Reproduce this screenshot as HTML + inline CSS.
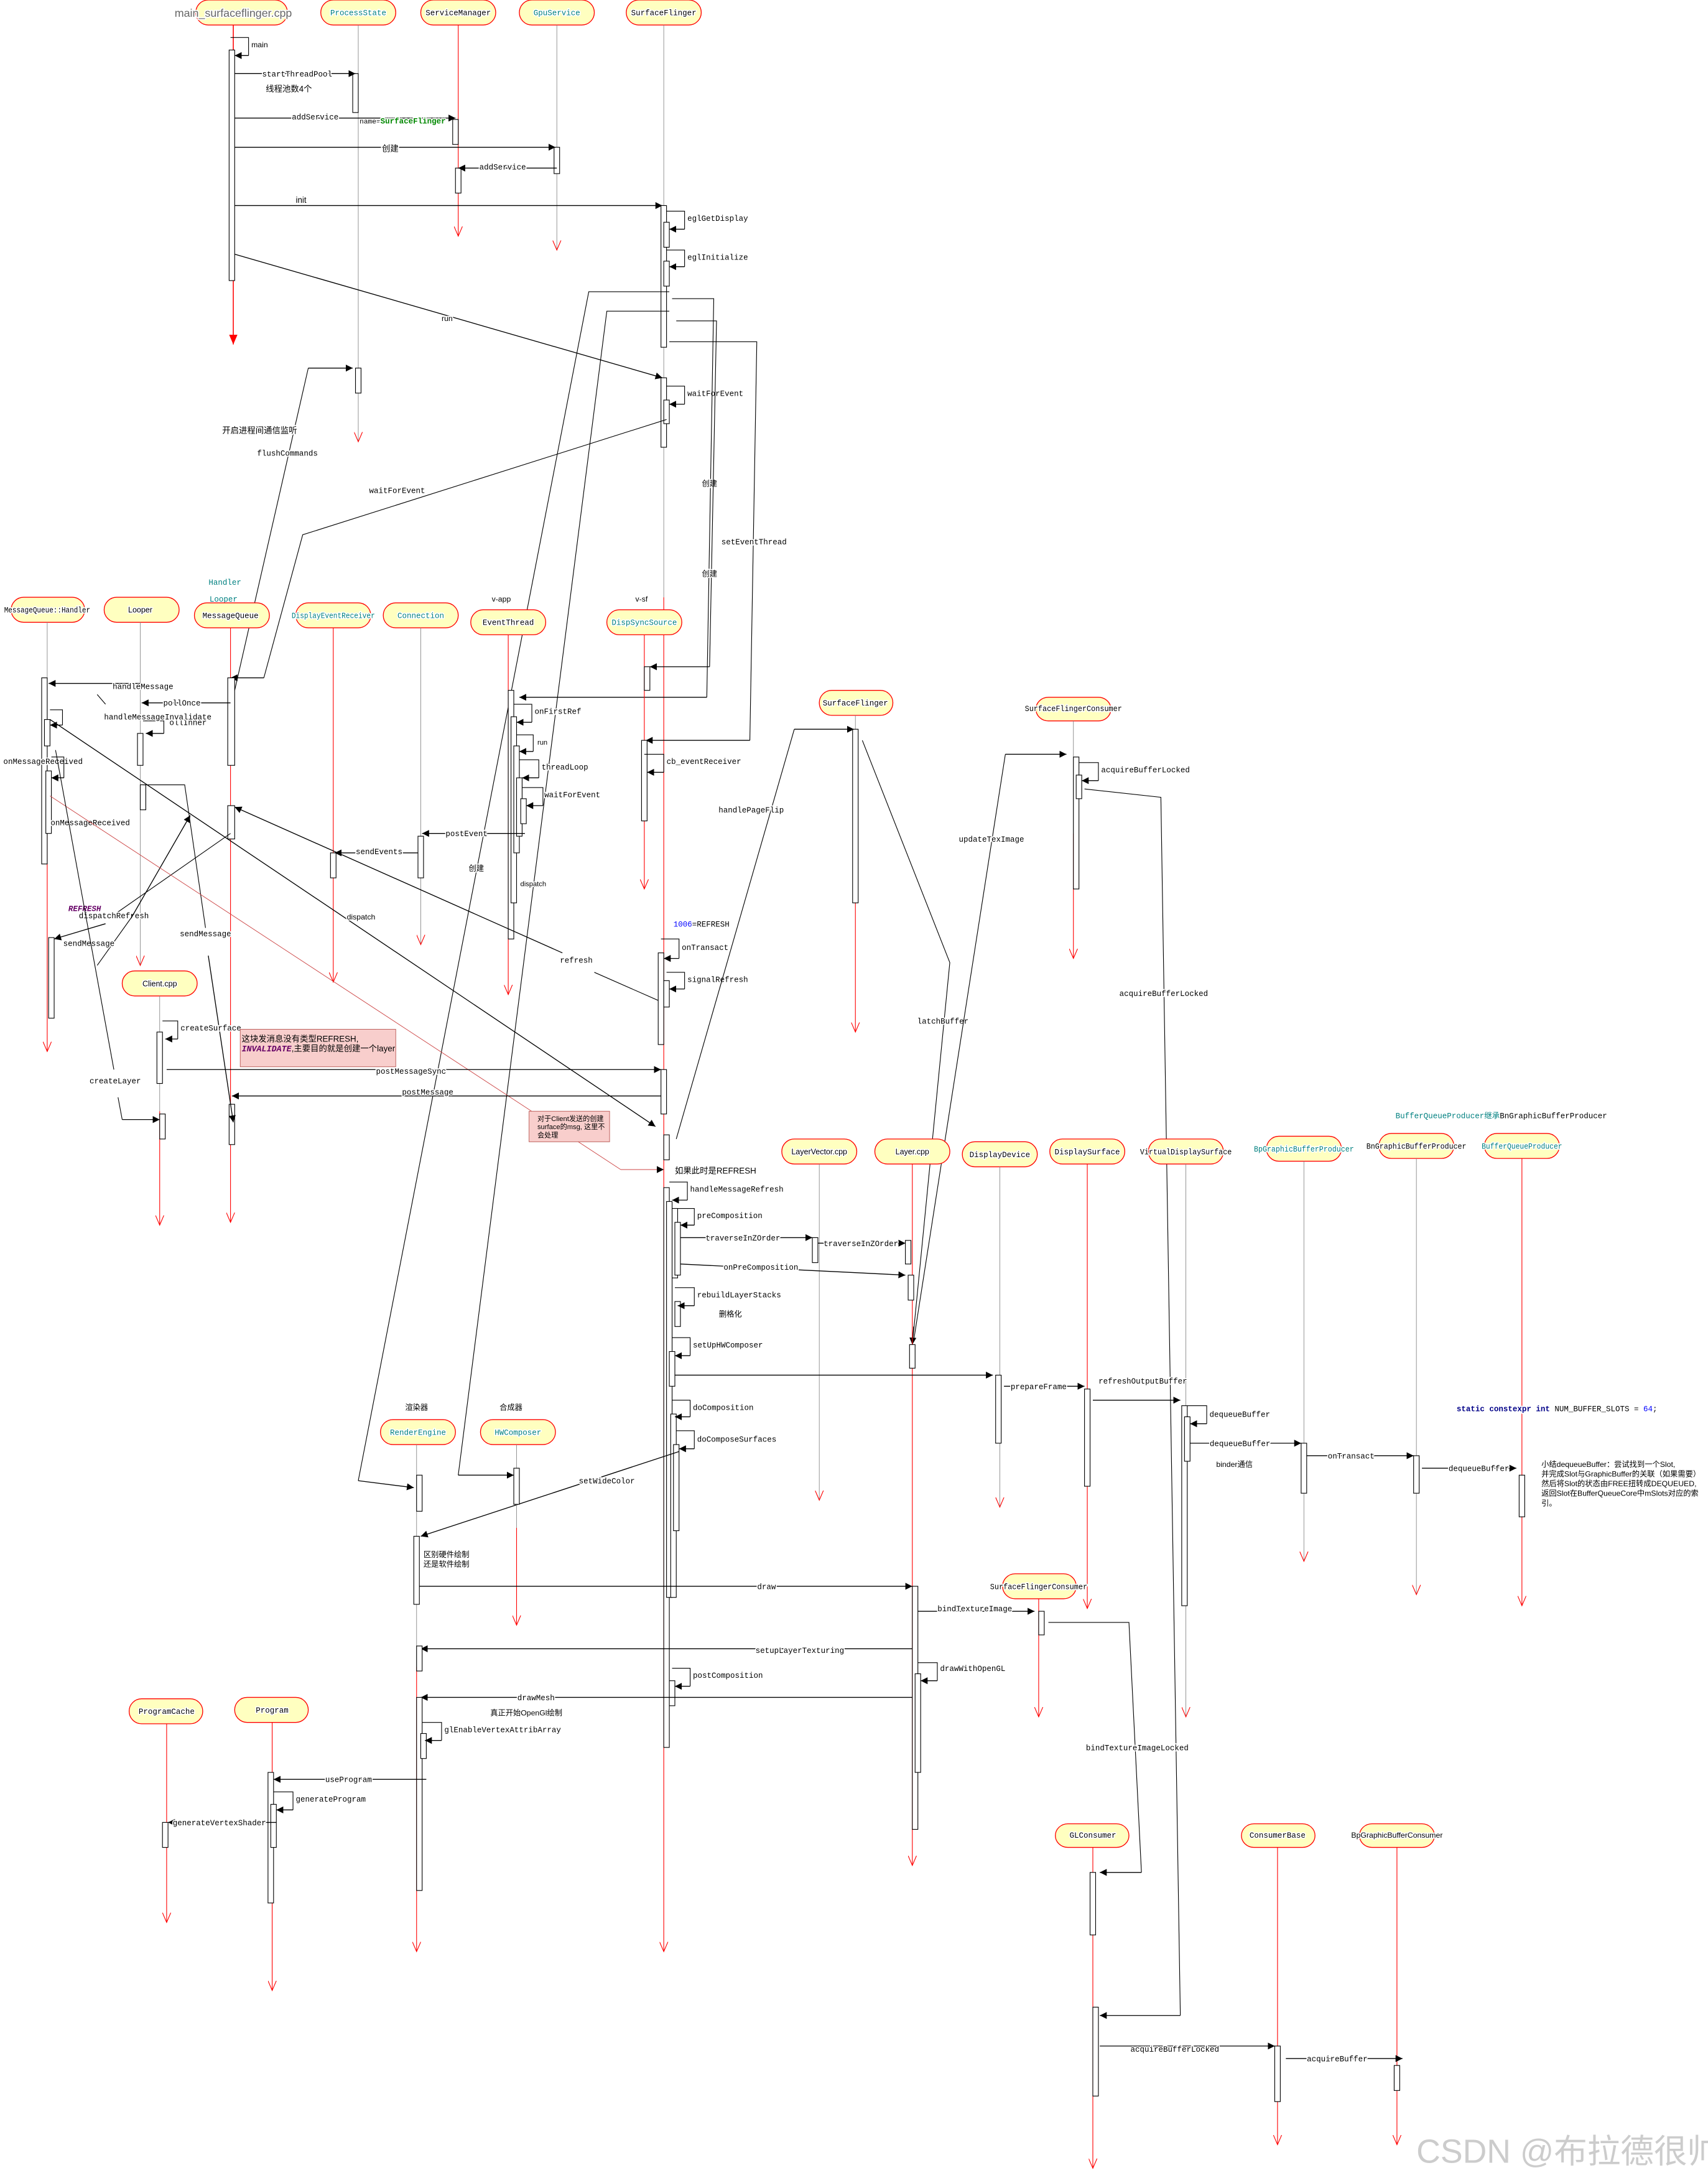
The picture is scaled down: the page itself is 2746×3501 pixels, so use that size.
<!DOCTYPE html>
<html><head><meta charset="utf-8">
<style>
html,body{margin:0;padding:0;background:#fff;}
svg{display:block;}
text{font-family:"Liberation Mono","Noto Sans CJK SC",monospace;font-size:5.6px;fill:#000;stroke:#fff;stroke-width:1.6px;paint-order:stroke;stroke-linejoin:round;}
.s{font-family:"Liberation Sans","Noto Sans CJK SC",sans-serif;}
.t{fill:#008080;}
.hb{fill:#ffffc0;stroke:#f00;stroke-width:0.6;}
.ht{stroke:none;}
.ll{stroke:#888;stroke-width:0.4;fill:none;}
.lr{stroke:#f00;stroke-width:0.5;fill:none;}
.ab{fill:#fff;stroke:#000;stroke-width:0.5;}
.m{stroke:#000;stroke-width:0.6;fill:none;marker-end:url(#fa);}
.p{stroke:#000;stroke-width:0.5;fill:none;}
</style></head><body>
<svg width="2746" height="3501" viewBox="0 0 1230 1568" preserveAspectRatio="none" xmlns="http://www.w3.org/2000/svg">
<defs>
<marker id="fa" markerWidth="6" markerHeight="6" refX="5" refY="3" orient="auto" markerUnits="userSpaceOnUse"><path d="M0,0.5 L5,3 L0,5.5z" fill="#000"/></marker>
<marker id="oa" markerWidth="8" markerHeight="8" refX="3" refY="7" orient="0" markerUnits="userSpaceOnUse"><path d="M0,0 L3,7 L6,0" fill="none" stroke="#f00" stroke-width="0.5"/></marker>
<marker id="ra" markerWidth="6" markerHeight="8" refX="3" refY="7" orient="0" markerUnits="userSpaceOnUse"><path d="M0,0 L3,7 L6,0z" fill="#f00"/></marker>
</defs>
<rect width="1230" height="1568" fill="#fff"/>

<!-- ===== TOP HEADERS ===== -->
<rect class="hb" x="141" y="0" width="66" height="18" rx="9"/>
<text x="168" y="12" text-anchor="middle" class="s" style="font-size:8px;fill:#666">main_surfaceflinger.cpp</text>
<rect class="hb" x="231" y="0" width="54" height="18" rx="9"/><text x="258" y="11" text-anchor="middle" class="t">ProcessState</text>
<rect class="hb" x="303" y="0" width="54" height="18" rx="9"/><text x="330" y="11" text-anchor="middle">ServiceManager</text>
<rect class="hb" x="374" y="0" width="54" height="18" rx="9"/><text x="401" y="11" text-anchor="middle" class="t">GpuService</text>
<rect class="hb" x="451" y="0" width="54" height="18" rx="9"/><text x="478" y="11" text-anchor="middle">SurfaceFlinger</text>

<line x1="168" y1="18" x2="168" y2="248" stroke="#f00" stroke-width="0.7" marker-end="url(#ra)"/>
<line class="ll" x1="258" y1="18" x2="258" y2="318" marker-end="url(#oa)"/>
<line class="lr" x1="330" y1="18" x2="330" y2="170" marker-end="url(#oa)"/>
<line class="ll" x1="401" y1="18" x2="401" y2="180" marker-end="url(#oa)"/>
<line class="ll" x1="478" y1="18" x2="478" y2="430"/>
<line class="lr" x1="478" y1="430" x2="478" y2="1405" marker-end="url(#oa)"/>

<rect class="ab" x="165" y="36" width="4" height="166"/>
<polyline class="p" points="166,27 179,27 179,40" /><line class="m" x1="179" y1="40" x2="169" y2="40"/>
<text x="181" y="34" class="s" style="font-size:5.5px">main</text>
<rect class="ab" x="254" y="53" width="4" height="28"/>
<line class="m" x1="169" y1="53" x2="256" y2="53"/><text x="214" y="55" text-anchor="middle">startThreadPool</text>
<text x="208" y="66" text-anchor="middle" class="s" style="font-size:6px">线程池数4个</text>
<rect class="ab" x="326" y="86" width="4" height="18"/>
<line class="m" x1="169" y1="85" x2="328" y2="85"/><text x="227" y="86" text-anchor="middle">addService</text>
<text x="290" y="89" text-anchor="middle" style="font-size:5px">name=<tspan style="fill:#080;font-weight:bold;font-size:5.6px">SurfaceFlinger</tspan></text>
<rect class="ab" x="399" y="106" width="4" height="19"/>
<line class="m" x1="169" y1="106" x2="400" y2="106"/><text x="281" y="109" text-anchor="middle" class="s" style="font-size:6px">创建</text>
<rect class="ab" x="328" y="121" width="4" height="18"/>
<line class="m" x1="401" y1="121" x2="330" y2="121"/><text x="362" y="122" text-anchor="middle">addService</text>
<line class="m" x1="169" y1="148" x2="477" y2="148"/><text x="213" y="146" class="s" style="font-size:6px">init</text>
<rect class="ab" x="476" y="148" width="4" height="102"/>
<rect class="ab" x="478" y="160" width="4" height="18"/>
<rect class="ab" x="478" y="188" width="4" height="18"/>
<polyline class="p" points="480,152 493,152 493,165"/><line class="m" x1="493" y1="165" x2="482" y2="165"/><text x="495" y="159">eglGetDisplay</text>
<polyline class="p" points="480,180 493,180 493,192"/><line class="m" x1="493" y1="192" x2="482" y2="192"/><text x="495" y="187">eglInitialize</text>
<line class="m" x1="169" y1="183" x2="477" y2="272"/><text x="322" y="231" text-anchor="middle" class="s" style="font-size:5.5px">run</text>
<rect class="ab" x="476" y="272" width="4" height="50"/>
<rect class="ab" x="478" y="288" width="4" height="17"/>
<polyline class="p" points="480,278 493,278 493,291"/><line class="m" x1="493" y1="291" x2="482" y2="291"/><text x="495" y="285">waitForEvent</text>
<rect class="ab" x="256" y="265" width="4" height="18"/>

<!-- long lines from SF init -->
<polyline class="p" points="482,210 424,210 258,1066" /><line class="m" x1="258" y1="1066" x2="298" y2="1071"/>
<polyline class="p" points="482,224 437,224 330,1062"/><line class="m" x1="330" y1="1062" x2="370" y2="1062"/>
<polyline class="p" points="484,215 514,215 509,502"/><line class="m" x1="509" y1="502" x2="374" y2="502"/><text x="511" y="350" text-anchor="middle" class="s" style="font-size:5.5px">创建</text>
<polyline class="p" points="487,231 516,231 511,480"/><line class="m" x1="511" y1="480" x2="468" y2="480"/><text x="511" y="415" text-anchor="middle" class="s" style="font-size:5.5px">创建</text>
<polyline class="p" points="482,246 545,246 540,533"/><line class="m" x1="540" y1="533" x2="465" y2="533"/><text x="543" y="392" text-anchor="middle">setEventThread</text>
<polyline class="p" points="169,497 222,265"/><line class="m" x1="222" y1="265" x2="254" y2="265"/>
<text x="187" y="312" text-anchor="middle" class="s" style="font-size:6px">开启进程间通信监听</text>
<text x="207" y="328" text-anchor="middle">flushCommands</text>
<polyline class="p" points="480,302 218,385 190,488"/><line class="m" x1="190" y1="488" x2="166" y2="488"/><text x="286" y="355" text-anchor="middle">waitForEvent</text>

<!-- ===== MIDDLE HEADERS ===== -->
<rect class="hb" x="8" y="430" width="53" height="18" rx="9"/><text x="34" y="441" text-anchor="middle" textLength="62" lengthAdjust="spacingAndGlyphs">MessageQueue::Handler</text>
<rect class="hb" x="75" y="430" width="54" height="18" rx="9"/><text x="101" y="441" text-anchor="middle" class="s">Looper</text>
<text x="162" y="421" text-anchor="middle" class="t">Handler</text><text x="161" y="433" text-anchor="middle" class="t">Looper</text>
<rect class="hb" x="140" y="434" width="54" height="18" rx="9"/><text x="166" y="445" text-anchor="middle">MessageQueue</text>
<rect class="hb" x="213" y="434" width="54" height="18" rx="9"/><text x="240" y="445" text-anchor="middle" class="t" textLength="60" lengthAdjust="spacingAndGlyphs">DisplayEventReceiver</text>
<rect class="hb" x="276" y="434" width="54" height="18" rx="9"/><text x="303" y="445" text-anchor="middle" class="t">Connection</text>
<text x="361" y="433" text-anchor="middle" class="s" style="font-size:5.5px">v-app</text>
<rect class="hb" x="339" y="439" width="54" height="18" rx="9"/><text x="366" y="450" text-anchor="middle">EventThread</text>
<text x="462" y="433" text-anchor="middle" class="s" style="font-size:5.5px">v-sf</text>
<rect class="hb" x="437" y="439" width="54" height="18" rx="9"/><text x="464" y="450" text-anchor="middle" class="t">DispSyncSource</text>

<line class="ll" x1="34" y1="448" x2="34" y2="600"/><line class="lr" x1="34" y1="600" x2="34" y2="757" marker-end="url(#oa)"/>
<line class="ll" x1="101" y1="448" x2="101" y2="695" marker-end="url(#oa)"/>
<line class="lr" x1="166" y1="452" x2="166" y2="880" marker-end="url(#oa)"/>
<line class="lr" x1="240" y1="452" x2="240" y2="707" marker-end="url(#oa)"/>
<line class="ll" x1="303" y1="452" x2="303" y2="680" marker-end="url(#oa)"/>
<line class="lr" x1="366" y1="457" x2="366" y2="716" marker-end="url(#oa)"/>
<line class="lr" x1="464" y1="457" x2="464" y2="640" marker-end="url(#oa)"/>

<rect class="ab" x="30" y="488" width="4" height="134"/>
<rect class="ab" x="32" y="518" width="4" height="19"/>
<rect class="ab" x="33" y="555" width="4" height="45"/>
<rect class="ab" x="35" y="675" width="4" height="58"/>
<rect class="ab" x="99" y="528" width="4" height="23"/>
<rect class="ab" x="101" y="565" width="4" height="18"/>
<rect class="ab" x="164" y="488" width="5" height="63"/>
<rect class="ab" x="164" y="580" width="5" height="24"/>
<rect class="ab" x="165" y="795" width="4" height="29"/>
<rect class="ab" x="238" y="614" width="4" height="18"/>
<rect class="ab" x="301" y="602" width="4" height="30"/>
<rect class="ab" x="366" y="497" width="4" height="179"/>
<rect class="ab" x="368" y="516" width="4" height="134"/>
<rect class="ab" x="370" y="537" width="4" height="77"/>
<rect class="ab" x="372" y="560" width="4" height="42"/>
<rect class="ab" x="375" y="575" width="4" height="18"/>
<rect class="ab" x="464" y="480" width="4" height="17"/>
<rect class="ab" x="462" y="533" width="4" height="58"/>

<line class="m" x1="166" y1="506" x2="102" y2="506"/><text x="131" y="508" text-anchor="middle">pollOnce</text>
<line class="m" x1="101" y1="492" x2="35" y2="492"/><text x="103" y="496" text-anchor="middle">handleMessage</text>
<line class="p" x1="70" y1="500" x2="76" y2="507"/>
<polyline class="p" points="103,519 118,519 118,528"/><line class="m" x1="118" y1="528" x2="105" y2="528"/><text x="122" y="522">ollInner</text>
<polyline class="p" points="36,511 45,511 45,522"/><line class="m" x1="45" y1="522" x2="36" y2="522"/><text x="75" y="518">handleMessageInvalidate</text>
<text x="31" y="550" text-anchor="middle">onMessageReceived</text>
<polyline class="p" points="37,545 46,545 46,560"/><line class="m" x1="46" y1="560" x2="37" y2="560"/>
<text x="65" y="594" text-anchor="middle">onMessageReceived</text>
<polyline class="p" points="103,565 133,565 148,668"/><text x="148" y="674" text-anchor="middle">sendMessage</text>
<line class="m" x1="150" y1="688" x2="168" y2="808"/>
<polyline class="p" points="166,600 80,660"/><line class="m" x1="76" y1="665" x2="39" y2="676"/>
<text x="82" y="661" text-anchor="middle">dispatchRefresh</text>
<text x="61" y="656" text-anchor="middle" style="fill:#606;font-style:italic;font-weight:bold;stroke:none">REFRESH</text>
<polyline class="p" points="70,695 95,660"/><line class="m" x1="95" y1="660" x2="137" y2="587"/>
<text x="64" y="681" text-anchor="middle">sendMessage</text>
<line class="m" x1="36" y1="518" x2="472" y2="811"/><text x="260" y="662" text-anchor="middle" class="s" style="font-size:5.5px">dispatch</text>
<polyline points="36,573 447,842" fill="none" stroke="#c44" stroke-width="0.4"/><line x1="447" y1="842" x2="478" y2="842" stroke="#c44" stroke-width="0.4" marker-end="url(#fa)"/>
<polyline class="p" points="40,540 82,770"/><polyline class="p" points="85,790 88,806"/><line class="m" x1="88" y1="806" x2="115" y2="806"/>
<text x="83" y="780" text-anchor="middle">createLayer</text>
<line class="m" x1="301" y1="614" x2="241" y2="614"/><text x="273" y="615" text-anchor="middle">sendEvents</text>
<line class="m" x1="378" y1="600" x2="304" y2="600"/><text x="336" y="602" text-anchor="middle">postEvent</text>
<polyline class="p" points="370,507 383,507 383,520"/><line class="m" x1="383" y1="520" x2="372" y2="520"/><text x="385" y="514">onFirstRef</text>
<polyline class="p" points="372,529 384,529 384,541"/><line class="m" x1="384" y1="541" x2="374" y2="541"/><text x="387" y="536" class="s" style="font-size:5px">run</text>
<polyline class="p" points="374,547 388,547 388,560"/><line class="m" x1="388" y1="560" x2="376" y2="560"/><text x="390" y="554">threadLoop</text>
<polyline class="p" points="376,567 391,567 391,580"/><line class="m" x1="391" y1="580" x2="379" y2="580"/><text x="392" y="574">waitForEvent</text>
<text x="343" y="627" text-anchor="middle" class="s" style="font-size:5.5px">创建</text>
<text x="384" y="638" text-anchor="middle" class="s" style="font-size:5px">dispatch</text>
<polyline class="p" points="478,722 428,700"/><line class="m" x1="405" y1="686" x2="169" y2="581"/><text x="415" y="693" text-anchor="middle">refresh</text>
<polyline class="p" points="464,543 478,543 478,556"/><line class="m" x1="478" y1="556" x2="466" y2="556"/><text x="480" y="550">cb_eventReceiver</text>
<text x="485" y="667"><tspan style="fill:#00f">1006</tspan>=REFRESH</text>
<rect class="ab" x="474" y="686" width="4" height="66"/>
<rect class="ab" x="478" y="706" width="4" height="19"/>
<rect class="ab" x="476" y="770" width="4" height="32"/>
<rect class="ab" x="478" y="817" width="4" height="18"/>
<polyline class="p" points="476,676 489,676 489,690"/><line class="m" x1="489" y1="690" x2="478" y2="690"/><text x="491" y="684">onTransact</text>
<polyline class="p" points="480,700 493,700 493,712"/><line class="m" x1="493" y1="712" x2="482" y2="712"/><text x="495" y="707">signalRefresh</text>

<rect class="hb" x="88" y="699" width="54" height="18" rx="9"/><text x="115" y="710" text-anchor="middle" class="s">Client.cpp</text>
<line class="ll" x1="115" y1="717" x2="115" y2="800"/><line class="lr" x1="115" y1="800" x2="115" y2="882" marker-end="url(#oa)"/>
<rect class="ab" x="113" y="743" width="4" height="37"/>
<rect class="ab" x="115" y="802" width="4" height="18"/>
<polyline class="p" points="117,735 128,735 128,748"/><line class="m" x1="128" y1="748" x2="119" y2="748"/><text x="130" y="742">createSurface</text>
<rect x="173" y="741" width="112" height="27" fill="#f8cecc" stroke="#b85450" stroke-width="0.4"/>
<text x="174" y="750" class="s" style="font-size:6px;stroke:none">这块发消息没有类型REFRESH,</text>
<text x="174" y="757" class="s" style="font-size:6px;stroke:none"><tspan style="fill:#606;font-style:italic;font-weight:bold;font-family:'Liberation Mono',monospace">INVALIDATE</tspan>,主要目的就是创建一个layer</text>
<line class="m" x1="120" y1="770" x2="476" y2="770"/><text x="296" y="773" text-anchor="middle">postMessageSync</text>
<line class="m" x1="476" y1="789" x2="167" y2="789"/><text x="308" y="788" text-anchor="middle">postMessage</text>
<rect x="381" y="800" width="58" height="22" fill="#f8cecc" stroke="#b85450" stroke-width="0.4"/>
<text x="387" y="807" class="s" style="font-size:5px;stroke:none">对于Client发送的创建</text>
<text x="387" y="813" class="s" style="font-size:5px;stroke:none">surface的msg, 这里不</text>
<text x="387" y="819" class="s" style="font-size:5px;stroke:none">会处理</text>
<text x="486" y="845" class="s" style="font-size:6px">如果此时是REFRESH</text>

<!-- SurfaceFlinger 2 -->
<rect class="hb" x="590" y="497" width="53" height="18" rx="9"/><text x="616" y="508" text-anchor="middle">SurfaceFlinger</text>
<line class="ll" x1="616" y1="515" x2="616" y2="600"/><line class="lr" x1="616" y1="600" x2="616" y2="743" marker-end="url(#oa)"/>
<rect class="ab" x="614" y="525" width="4" height="125"/>
<polyline class="p" points="487,820 572,525"/><line class="m" x1="572" y1="525" x2="615" y2="525"/>
<text x="541" y="585" text-anchor="middle">handlePageFlip</text>
<polyline class="p" points="621,533 684,693 657,968"/><line class="m" x1="658" y1="955" x2="657" y2="968"/>
<text x="679" y="737" text-anchor="middle">latchBuffer</text>
<polyline class="p" points="658,965 724,543"/><line class="m" x1="724" y1="543" x2="768" y2="543"/>
<text x="714" y="606" text-anchor="middle">updateTexImage</text>
<rect class="hb" x="746" y="502" width="54" height="17" rx="9"/><text x="773" y="512" text-anchor="middle" textLength="70" lengthAdjust="spacingAndGlyphs">SurfaceFlingerConsumer</text>
<line class="ll" x1="773" y1="519" x2="773" y2="600"/><line class="lr" x1="773" y1="600" x2="773" y2="690" marker-end="url(#oa)"/>
<rect class="ab" x="773" y="545" width="4" height="95"/>
<rect class="ab" x="775" y="558" width="4" height="17"/>
<polyline class="p" points="777,549 791,549 791,562"/><line class="m" x1="791" y1="562" x2="779" y2="562"/><text x="793" y="556">acquireBufferLocked</text>
<polyline class="p" points="781,568 836,574 850,1451"/><line class="m" x1="850" y1="1451" x2="792" y2="1451"/>
<text x="838" y="717" text-anchor="middle">acquireBufferLocked</text>

<!-- ===== BOTTOM HEADERS ===== -->
<rect class="hb" x="563" y="820" width="54" height="18" rx="9"/><text x="590" y="831" text-anchor="middle" class="s">LayerVector.cpp</text>
<rect class="hb" x="630" y="820" width="54" height="18" rx="9"/><text x="657" y="831" text-anchor="middle" class="s">Layer.cpp</text>
<rect class="hb" x="693" y="822" width="54" height="18" rx="9"/><text x="720" y="833" text-anchor="middle">DisplayDevice</text>
<rect class="hb" x="756" y="820" width="54" height="18" rx="9"/><text x="783" y="831" text-anchor="middle">DisplaySurface</text>
<rect class="hb" x="827" y="820" width="54" height="18" rx="9"/><text x="854" y="831" text-anchor="middle" textLength="66" lengthAdjust="spacingAndGlyphs">VirtualDisplaySurface</text>
<rect class="hb" x="912" y="818" width="54" height="18" rx="9"/><text x="939" y="829" text-anchor="middle" class="t" textLength="72" lengthAdjust="spacingAndGlyphs">BpGraphicBufferProducer</text>
<rect class="hb" x="993" y="816" width="54" height="18" rx="9"/><text x="1020" y="827" text-anchor="middle" textLength="72" lengthAdjust="spacingAndGlyphs">BnGraphicBufferProducer</text>
<rect class="hb" x="1069" y="816" width="54" height="18" rx="9"/><text x="1096" y="827" text-anchor="middle" class="t" textLength="58" lengthAdjust="spacingAndGlyphs">BufferQueueProducer</text>
<text x="1005" y="805"><tspan class="t">BufferQueueProducer继承</tspan>BnGraphicBufferProducer</text>

<line class="ll" x1="590" y1="838" x2="590" y2="1080" marker-end="url(#oa)"/>
<line class="lr" x1="657" y1="838" x2="657" y2="1343" marker-end="url(#oa)"/>
<line class="ll" x1="720" y1="840" x2="720" y2="1085" marker-end="url(#oa)"/>
<line class="lr" x1="783" y1="838" x2="783" y2="1158" marker-end="url(#oa)"/>
<line class="ll" x1="854" y1="838" x2="854" y2="1236" marker-end="url(#oa)"/>
<line class="ll" x1="939" y1="836" x2="939" y2="1124" marker-end="url(#oa)"/>
<line class="ll" x1="1020" y1="834" x2="1020" y2="1148" marker-end="url(#oa)"/>
<line class="lr" x1="1096" y1="834" x2="1096" y2="1156" marker-end="url(#oa)"/>

<rect class="ab" x="478" y="855" width="4" height="403"/>
<rect class="ab" x="480" y="865" width="4" height="285"/>
<rect class="ab" x="484" y="870" width="4" height="50"/>
<rect class="ab" x="486" y="880" width="4" height="38"/>
<rect class="ab" x="486" y="937" width="4" height="18"/>
<rect class="ab" x="482" y="973" width="4" height="25"/>
<rect class="ab" x="483" y="1018" width="4" height="132"/>
<rect class="ab" x="485" y="1040" width="4" height="62"/>
<rect class="ab" x="482" y="1210" width="4" height="18"/>
<polyline class="p" points="482,851 495,851 495,864"/><line class="m" x1="495" y1="864" x2="484" y2="864"/><text x="497" y="858">handleMessageRefresh</text>
<polyline class="p" points="488,870 500,870 500,882"/><line class="m" x1="500" y1="882" x2="490" y2="882"/><text x="502" y="877">preComposition</text>
<line class="m" x1="490" y1="891" x2="585" y2="891"/><text x="535" y="893" text-anchor="middle">traverseInZOrder</text>
<rect class="ab" x="585" y="891" width="4" height="18"/>
<line class="m" x1="589" y1="895" x2="652" y2="895"/><text x="620" y="897" text-anchor="middle">traverseInZOrder</text>
<rect class="ab" x="652" y="893" width="4" height="17"/>
<line class="m" x1="490" y1="910" x2="652" y2="918"/><text x="548" y="914" text-anchor="middle">onPreComposition</text>
<rect class="ab" x="654" y="918" width="4" height="18"/>
<polyline class="p" points="486,927 500,927 500,940"/><line class="m" x1="500" y1="940" x2="488" y2="940"/><text x="502" y="934">rebuildLayerStacks</text>
<text x="526" y="948" text-anchor="middle" class="s" style="font-size:5.5px">删格化</text>
<polyline class="p" points="484,963 497,963 497,976"/><line class="m" x1="497" y1="976" x2="486" y2="976"/><text x="499" y="970">setUpHWComposer</text>
<rect class="ab" x="655" y="968" width="4" height="17"/>
<line class="m" x1="486" y1="990" x2="715" y2="990"/>
<rect class="ab" x="717" y="990" width="4" height="49"/>
<line class="m" x1="723" y1="998" x2="781" y2="998"/><text x="748" y="1000" text-anchor="middle">prepareFrame</text>
<rect class="ab" x="781" y="1000" width="4" height="70"/>
<text x="823" y="996" text-anchor="middle">refreshOutputBuffer</text>
<line class="m" x1="787" y1="1008" x2="850" y2="1008"/>
<rect class="ab" x="851" y="1012" width="4" height="144"/>
<rect class="ab" x="853" y="1020" width="4" height="32"/>
<polyline class="p" points="855,1012 869,1012 869,1025"/><line class="m" x1="869" y1="1025" x2="857" y2="1025"/><text x="871" y="1020">dequeueBuffer</text>
<line class="m" x1="857" y1="1039" x2="937" y2="1039"/><text x="893" y="1041" text-anchor="middle">dequeueBuffer</text>
<text x="889" y="1056" text-anchor="middle" class="s" style="font-size:5.5px">binder通信</text>
<rect class="ab" x="937" y="1039" width="4" height="36"/>
<line class="m" x1="941" y1="1048" x2="1018" y2="1048"/><text x="973" y="1050" text-anchor="middle">onTransact</text>
<rect class="ab" x="1018" y="1048" width="4" height="27"/>
<line class="m" x1="1024" y1="1057" x2="1092" y2="1057"/><text x="1065" y="1059" text-anchor="middle">dequeueBuffer</text>
<rect class="ab" x="1094" y="1062" width="4" height="30"/>
<text x="1049" y="1016"><tspan style="fill:#008;font-weight:bold">static constexpr int</tspan> NUM_BUFFER_SLOTS = <tspan style="fill:#00f">64</tspan>;</text>
<text x="1110" y="1056" class="s" style="font-size:5.5px">小结dequeueBuffer：尝试找到一个Slot,</text>
<text x="1110" y="1063" class="s" style="font-size:5.5px">并完成Slot与GraphicBuffer的关联（如果需要）</text>
<text x="1110" y="1070" class="s" style="font-size:5.5px">然后将Slot的状态由FREE扭转成DEQUEUED,</text>
<text x="1110" y="1077" class="s" style="font-size:5.5px">返回Slot在BufferQueueCore中mSlots对应的索</text>
<text x="1110" y="1084" class="s" style="font-size:5.5px">引。</text>
<polyline class="p" points="484,1008 497,1008 497,1020"/><line class="m" x1="497" y1="1020" x2="486" y2="1020"/><text x="499" y="1015">doComposition</text>
<polyline class="p" points="487,1030 500,1030 500,1043"/><line class="m" x1="500" y1="1043" x2="489" y2="1043"/><text x="502" y="1038">doComposeSurfaces</text>
<line class="m" x1="489" y1="1045" x2="303" y2="1106"/><text x="437" y="1068" text-anchor="middle">setWideColor</text>

<text x="300" y="1015" text-anchor="middle" class="s" style="font-size:5.5px">渲染器</text>
<rect class="hb" x="274" y="1022" width="54" height="18" rx="9"/><text x="301" y="1033" text-anchor="middle" class="t">RenderEngine</text>
<text x="368" y="1015" text-anchor="middle" class="s" style="font-size:5.5px">合成器</text>
<rect class="hb" x="346" y="1022" width="54" height="18" rx="9"/><text x="373" y="1033" text-anchor="middle" class="t">HWComposer</text>
<line class="ll" x1="300" y1="1040" x2="300" y2="1200"/><line class="lr" x1="300" y1="1200" x2="300" y2="1405" marker-end="url(#oa)"/>
<line class="ll" x1="372" y1="1040" x2="372" y2="1100"/><line class="lr" x1="372" y1="1100" x2="372" y2="1170" marker-end="url(#oa)"/>
<rect class="ab" x="300" y="1062" width="4" height="26"/>
<rect class="ab" x="370" y="1057" width="4" height="26"/>
<rect class="ab" x="298" y="1106" width="4" height="49"/>
<text x="305" y="1121" class="s" style="font-size:5.5px">区别硬件绘制</text>
<text x="305" y="1128" class="s" style="font-size:5.5px">还是软件绘制</text>
<line class="m" x1="302" y1="1142" x2="657" y2="1142"/><text x="552" y="1144" text-anchor="middle">draw</text>
<rect class="ab" x="657" y="1142" width="4" height="175"/>
<rect class="ab" x="659" y="1205" width="4" height="71"/>
<rect class="hb" x="722" y="1133" width="53" height="18" rx="9"/><text x="748" y="1144" text-anchor="middle" textLength="70" lengthAdjust="spacingAndGlyphs">SurfaceFlingerConsumer</text>
<line class="lr" x1="748" y1="1151" x2="748" y2="1236" marker-end="url(#oa)"/>
<rect class="ab" x="748" y="1160" width="4" height="17"/>
<line class="m" x1="661" y1="1160" x2="745" y2="1160"/><text x="702" y="1160" text-anchor="middle">bindTextureImage</text>
<line class="m" x1="657" y1="1187" x2="303" y2="1187"/><text x="576" y="1190" text-anchor="middle">setupLayerTexturing</text>
<rect class="ab" x="300" y="1185" width="4" height="18"/>
<polyline class="p" points="661,1197 675,1197 675,1210"/><line class="m" x1="675" y1="1210" x2="663" y2="1210"/><text x="677" y="1203">drawWithOpenGL</text>
<polyline class="p" points="484,1201 497,1201 497,1214"/><line class="m" x1="497" y1="1214" x2="486" y2="1214"/><text x="499" y="1208">postComposition</text>
<line class="m" x1="657" y1="1222" x2="303" y2="1222"/><text x="386" y="1224" text-anchor="middle">drawMesh</text>
<text x="379" y="1235" text-anchor="middle" class="s" style="font-size:5.5px">真正开始OpenGl绘制</text>
<rect class="ab" x="300" y="1222" width="4" height="139"/>
<rect class="ab" x="303" y="1248" width="4" height="18"/>
<polyline class="p" points="304,1240 318,1240 318,1253"/><line class="m" x1="318" y1="1253" x2="306" y2="1253"/><text x="320" y="1247">glEnableVertexAttribArray</text>
<polyline class="p" points="755,1168 813,1168 822,1348"/><line class="m" x1="822" y1="1348" x2="792" y2="1348"/>
<text x="819" y="1260" text-anchor="middle">bindTextureImageLocked</text>

<rect class="hb" x="93" y="1223" width="53" height="18" rx="9"/><text x="120" y="1234" text-anchor="middle">ProgramCache</text>
<rect class="hb" x="169" y="1222" width="53" height="18" rx="9"/><text x="196" y="1233" text-anchor="middle">Program</text>
<line class="lr" x1="120" y1="1241" x2="120" y2="1384" marker-end="url(#oa)"/>
<line class="lr" x1="196" y1="1240" x2="196" y2="1433" marker-end="url(#oa)"/>
<rect class="ab" x="193" y="1276" width="4" height="94"/>
<rect class="ab" x="195" y="1299" width="4" height="31"/>
<rect class="ab" x="117" y="1312" width="4" height="18"/>
<line class="m" x1="307" y1="1281" x2="197" y2="1281"/><text x="251" y="1283" text-anchor="middle">useProgram</text>
<polyline class="p" points="197,1290 211,1290 211,1303"/><line class="m" x1="211" y1="1303" x2="199" y2="1303"/><text x="213" y="1297">generateProgram</text>
<line class="m" x1="199" y1="1312" x2="121" y2="1312"/><text x="158" y="1314" text-anchor="middle">generateVertexShader</text>

<rect class="hb" x="760" y="1313" width="53" height="17" rx="9"/><text x="787" y="1323" text-anchor="middle">GLConsumer</text>
<rect class="hb" x="894" y="1313" width="53" height="17" rx="9"/><text x="920" y="1323" text-anchor="middle">ConsumerBase</text>
<rect class="hb" x="979" y="1313" width="54" height="17" rx="9"/><text x="1006" y="1323" text-anchor="middle" class="s" style="font-size:5.5px">BpGraphicBufferConsumer</text>
<line class="lr" x1="787" y1="1330" x2="787" y2="1561" marker-end="url(#oa)"/>
<line class="lr" x1="920" y1="1330" x2="920" y2="1544" marker-end="url(#oa)"/>
<line class="lr" x1="1006" y1="1330" x2="1006" y2="1544" marker-end="url(#oa)"/>
<rect class="ab" x="785" y="1348" width="4" height="45"/>
<rect class="ab" x="787" y="1445" width="4" height="64"/>
<rect class="ab" x="918" y="1473" width="4" height="40"/>
<rect class="ab" x="1004" y="1487" width="4" height="18"/>
<line class="m" x1="792" y1="1473" x2="918" y2="1473"/><text x="846" y="1477" text-anchor="middle">acquireBufferLocked</text>
<line class="m" x1="926" y1="1482" x2="1010" y2="1482"/><text x="963" y="1484" text-anchor="middle">acquireBuffer</text>

<text x="1020" y="1557" class="s" style="font-size:24px;fill:#ccc;stroke:none">CSDN @布拉德很帅</text>
</svg>
</body></html>
